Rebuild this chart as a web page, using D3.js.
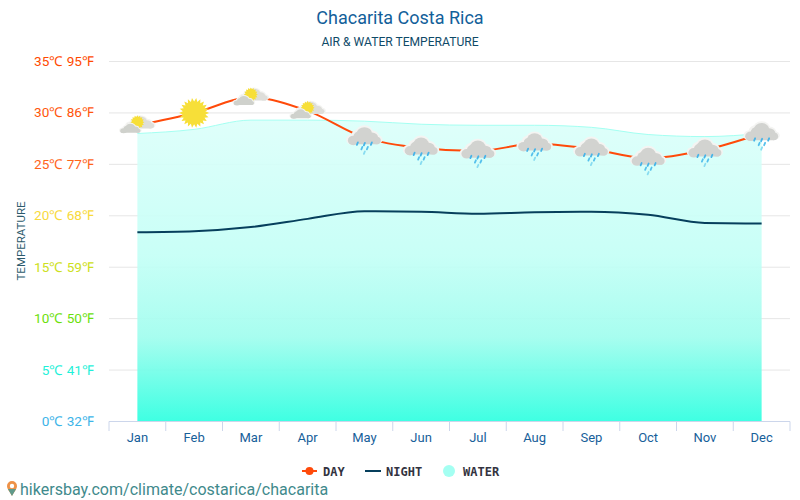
<!DOCTYPE html>
<html>
<head>
<meta charset="utf-8"/>
<title>Chacarita Costa Rica</title>
<script src="https://cdn.jsdelivr.net/npm/d3@7"></script>
<style>
    html, body { margin: 0; padding: 0; background: #fff; }
    text { font-family: Roboto, sans-serif; }
</style>
</head>
<body>
<div id="chart"></div>
<script>
var months = ["Jan", "Feb", "Mar", "Apr", "May", "Jun", "Jul", "Aug", "Sep", "Oct", "Nov", "Dec"];
var day = [28.8, 30, 31.5, 30.2, 27.6, 26.6, 26.3, 27, 26.5, 25.6, 26.4, 28];
var night = [18.4, 18.5, 18.9, 19.7, 20.45, 20.4, 20.2, 20.35, 20.4, 20.1, 19.3, 19.25];
var water = [28, 28.4, 29.3, 29.3, 29.2, 28.9, 28.8, 28.8, 28.6, 27.9, 27.7, 28];
var weather = ["partly", "sun", "partly", "partly", "rain", "rain", "rain", "rain", "rain", "rain", "rain", "rain"];
var tempTicks = [0, 5, 10, 15, 20, 25, 30, 35];
var fahrenheit = [32, 41, 50, 59, 68, 77, 86, 95];
var tickColors = ["#3db4e8", "#1ff0d8", "#6cdf0c", "#cde020", "#f8da3c", "#ff641a", "#ff560c", "#ff4a00"];

var svg = d3.select("#chart").append("svg").attr("width", 800).attr("height", 500);

var x = d3.scaleBand().domain(months).range([109, 790]);
var y = d3.scaleLinear().domain([0, 35]).range([421.5, 61.5]);
var cx = function(i) { return x(months[i]) + x.bandwidth() / 2; };

var defs = svg.append("defs");
var grad = defs.append("linearGradient").attr("id", "waterFill")
    .attr("gradientUnits", "userSpaceOnUse")
    .attr("x1", 0).attr("x2", 0).attr("y1", y(29.3)).attr("y2", y(0));
grad.append("stop").attr("offset", 0).attr("stop-color", "#dcfffa");
grad.append("stop").attr("offset", 0.45).attr("stop-color", "#c4fff6");
grad.append("stop").attr("offset", 0.72).attr("stop-color", "#a0fdee");
grad.append("stop").attr("offset", 1).attr("stop-color", "#2effe0");

// grid
svg.append("g").selectAll("line").data(tempTicks).enter().append("line")
    .attr("x1", 109).attr("x2", 790)
    .attr("y1", function(d) { return y(d); }).attr("y2", function(d) { return y(d); })
    .attr("stroke", "#e6e6e6").attr("stroke-width", 1);

// water area
var curve = d3.curveMonotoneX;
var area = d3.area().x(function(d, i) { return cx(i); }).y0(y(0)).y1(function(d) { return y(d); }).curve(curve);
var line = d3.line().x(function(d, i) { return cx(i); }).y(function(d) { return y(d); }).curve(curve);

svg.append("path").datum(water).attr("d", area).attr("fill", "url(#waterFill)").attr("fill-opacity", 0.92);
svg.append("path").datum(water).attr("d", line).attr("fill", "none").attr("stroke", "#a4fff2").attr("stroke-width", 1);
svg.append("path").datum(night).attr("d", line).attr("fill", "none").attr("stroke", "#063f5c").attr("stroke-width", 2);
svg.append("path").datum(day).attr("d", line).attr("fill", "none").attr("stroke", "#ff4a0a").attr("stroke-width", 2);

// x axis
var xAxis = d3.axisBottom(x).tickSize(0).tickPadding(11);
var xg = svg.append("g").attr("transform", "translate(0,421.5)").call(xAxis);
xg.select(".domain").attr("stroke", "#ccd6eb").attr("d", "M109,0H790");
xg.selectAll("text").attr("fill", "#17609a").attr("font-size", 13).attr("font-family", "Roboto, sans-serif");
svg.append("g").selectAll("line").data(months.concat(["end"])).enter().append("line")
    .attr("x1", function(d) { return d === "end" ? 790 : x(d); })
    .attr("x2", function(d) { return d === "end" ? 790 : x(d); })
    .attr("y1", 421.5).attr("y2", 431).attr("stroke", "#ccd6eb");

// y labels
svg.append("g").selectAll("text").data(tempTicks).enter().append("text")
    .attr("x", 94).attr("y", function(d) { return y(d) + 4.5; })
    .attr("text-anchor", "end").attr("font-size", 13.6)
    .attr("fill", function(d, i) { return tickColors[i]; })
    .text(function(d, i) { return d + "\u2103 " + fahrenheit[i] + "\u2109"; });

svg.append("text").attr("transform", "translate(25,241) rotate(-90)")
    .attr("text-anchor", "middle").attr("font-size", 11.5).attr("fill", "#2c5a6c").text("TEMPERATURE");

// titles
svg.append("text").attr("x", 400).attr("y", 24).attr("text-anchor", "middle")
    .attr("font-size", 18).attr("fill", "#12609a").text("Chacarita Costa Rica");
svg.append("text").attr("x", 400).attr("y", 46).attr("text-anchor", "middle")
    .attr("font-size", 12.1).attr("fill", "#0f4a68").text("AIR & WATER TEMPERATURE");

// weather icons
function drawCloud(parent, dx, dy, sx, sy, fill) {
    var g = parent.append("g").attr("transform", "translate(" + dx + "," + dy + ") scale(" + sx + "," + sy + ")");
    [[-11, 2, 5.5], [-5, -2, 7], [0, -5, 8], [7, -1, 6.5], [12, 2, 4.5]].forEach(function(c) {
        g.append("circle").attr("cx", c[0]).attr("cy", c[1]).attr("r", c[2]).attr("fill", "#f4f4f2");
    });
    [[-10, 3, 5], [-4, -1, 6], [0, -4, 7], [7, 0, 5.5], [11, 3, 4]].forEach(function(c) {
        g.append("circle").attr("cx", c[0]).attr("cy", c[1]).attr("r", c[2]).attr("fill", fill);
    });
    g.append("rect").attr("x", -14).attr("y", 1).attr("width", 28).attr("height", 6).attr("rx", 3).attr("fill", fill);
}

function drawSun(g, r, spikes) {
    var pts = d3.range(spikes * 2).map(function(i) {
        var a = i * Math.PI / spikes, rad = i % 2 ? r * 0.76 : r;
        return [rad * Math.cos(a), rad * Math.sin(a)];
    });
    g.append("polygon").attr("points", pts.join(" ")).attr("fill", "#f7df38");
}

function drawRain(g) {
    [[-7, 6, "#45b4e8"], [0, 6.5, "#45b4e8"], [7, 6, "#45b4e8"], [-2.5, 10.5, "#55c0ec"], [3, 10.5, "#55c0ec"], [0, 15, "#88dcf0"]].forEach(function(d) {
        g.append("line").attr("x1", d[0] + 0.5).attr("x2", d[0] - 0.5)
            .attr("y1", d[1] - 1.2).attr("y2", d[1] + 1.2)
            .attr("stroke", d[2]).attr("stroke-width", 1.8).attr("stroke-linecap", "round");
    });
}

var icons = svg.append("g").selectAll("g").data(weather).enter().append("g")
    .attr("transform", function(d, i) { return "translate(" + cx(i) + "," + y(day[i]) + ")"; });

icons.each(function(d) {
    var g = d3.select(this);
    if (d === "sun") {
        drawSun(g, 15, 22);
    } else if (d === "partly") {
        drawCloud(g, 3, -1.5, 0.92, 0.66, "#dededa");
        drawSun(g.append("g").attr("transform", "translate(0,-3)"), 7, 16);
        drawCloud(g, -7, 4, 0.68, 0.5, "#cfd1cc");
    } else {
        drawCloud(g, 0, 0, 1.1, 0.95, "#d2d3d0");
        drawRain(g);
    }
});

// legend
var legend = svg.append("g");
var legendY = 471;
legend.append("line").attr("x1", 302).attr("x2", 317).attr("y1", legendY).attr("y2", legendY)
    .attr("stroke", "#ff4a0a").attr("stroke-width", 2);
legend.append("circle").attr("cx", 309.5).attr("cy", legendY).attr("r", 4).attr("fill", "#ff4a0a");
legend.append("line").attr("x1", 365).attr("x2", 381).attr("y1", legendY).attr("y2", legendY)
    .attr("stroke", "#063f5c").attr("stroke-width", 2);
legend.append("circle").attr("cx", 449).attr("cy", legendY).attr("r", 6).attr("fill", "#a4fff2");
[["DAY", 323], ["NIGHT", 386], ["WATER", 463]].forEach(function(d) {
    legend.append("text").attr("x", d[1]).attr("y", legendY + 4.5)
        .attr("font-size", 12).attr("font-weight", "bold").attr("fill", "#333340")
        .style("font-family", "'DejaVu Sans Mono', monospace").text(d[0]);
});

// footer
var pin = svg.append("g").attr("transform", "translate(12,488)");
pin.append("path").attr("d", "M0,8 C-2,4 -5,1 -5,-2 A5,5 0 1 1 5,-2 C5,1 2,4 0,8 Z").attr("fill", "#ee9248");
pin.append("path").attr("d", "M0,8 C-1.5,5 -3,3 -4,1 L4,1 C3,3 1.5,5 0,8 Z").attr("fill", "#5f9a8c");
pin.append("circle").attr("cy", -2).attr("r", 2.2).attr("fill", "#fff");
svg.append("text").attr("x", 20).attr("y", 495).attr("font-size", 16.05).attr("fill", "#3f8a8c")
    .text("hikersbay.com/climate/costarica/chacarita");
</script>
</body>
</html>
